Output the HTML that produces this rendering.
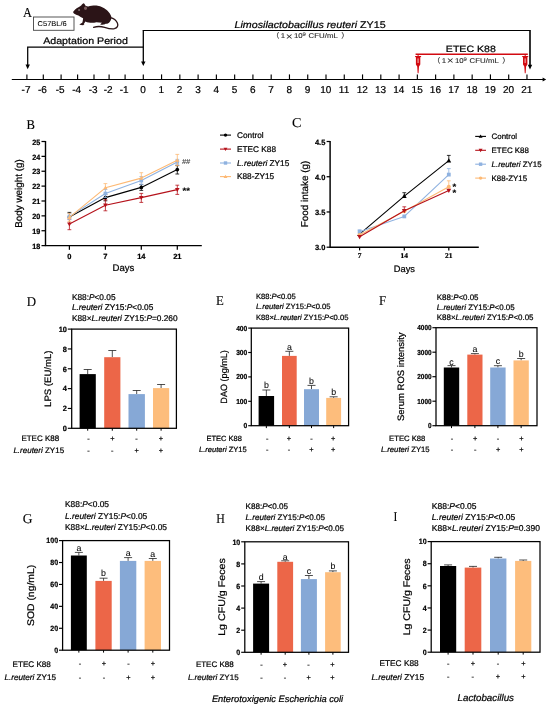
<!DOCTYPE html>
<html lang="en">
<head>
<meta charset="utf-8">
<title>Figure</title>
<style>
html,body{margin:0;padding:0;background:#fff;}
body{width:550px;height:707px;overflow:hidden;}
svg{display:block;}
text{fill:#000000;stroke:#000000;stroke-width:0.22px;text-rendering:geometricPrecision;}
.s{font-family:"Liberation Sans", Arial, sans-serif;}
.r{font-family:"Liberation Serif", "Times New Roman", serif;}
.c{font-family:"Liberation Sans", "Noto Sans CJK SC", sans-serif;}
</style>
</head>
<body>
<svg width="550" height="707" viewBox="0 0 550 707">
<rect x="0" y="0" width="550" height="707" fill="#ffffff"/>
<text class="r" transform="translate(23.1 17.1) scale(0.92 1)" font-size="13.5" style="stroke-width:0.1px">A</text>
<rect x="33.5" y="17" width="40.5" height="13.3" fill="#fff" stroke="#444" stroke-width="0.9"/>
<text class="s" transform="translate(52.2 25.8) scale(1.07 1)" font-size="7" text-anchor="middle" style="stroke-width:0.06px">C57BL/6</text>
<g fill="#2b1417" stroke="none"><path d="M73.2 11.8 C74.5 10 76.2 8.6 78 7.6 C79.2 6.8 80.4 6 81.4 5.2 C82 4.2 82.9 3.4 83.8 3.2 C84.6 3.6 85 4.6 85.3 5.6 C86.4 6.2 87.2 6.5 88.2 6.6 C91 5.8 94.5 5.3 97.6 5.7 C101 6.2 103.8 7.6 106 9.6 C108.2 11.4 109.8 13.2 110.6 15.1 C111.4 16.6 111.6 17.8 111.2 19 C110.8 20.8 109.6 22.6 107.8 23.6 C106.8 24 105.8 23.6 105 24.2 C103.6 24.8 101.6 24.8 100.2 24.4 C100.6 23.6 101.4 23.2 102 22.8 C100 22.6 98 22.6 96.4 22.3 C93.8 22.9 91.2 23 88.8 22.6 C87.6 22.3 86.4 21.9 85.4 21.4 C84.8 22.6 84.2 23.6 83.6 24.2 C84.2 24.5 84.6 24.8 84.2 25.1 C82.6 25.3 80.6 25.1 79.3 24.5 C80.4 23.8 81.6 23.5 82.4 22.6 C82.8 21.2 82.9 19.6 83.1 18.2 C81.4 17.6 79.8 16.7 78.4 15.6 C76.8 15.2 75.4 14.5 74.3 13.7 C73.5 13.2 73 12.5 73.2 11.8 Z"/></g>
<path d="M110.4 17.6 C113.6 18.4 116.2 20.4 117.4 23 C118.6 25.8 117.2 28 114.4 28.7 C111.4 29.3 108 28.4 104.6 27.3 C101 26.3 97 26.2 93.6 27.3" fill="none" stroke="#2b1417" stroke-width="1.3" stroke-linecap="round"/>
<ellipse cx="85.5" cy="8.3" rx="1.5" ry="1.8" fill="#7a5c5c"/>
<ellipse cx="79.1" cy="9.9" rx="1.1" ry="0.75" fill="#9a8a8a"/>
<text class="s" transform="translate(85.5 44.2) scale(1.11 1)" font-size="9.6" text-anchor="middle" >Adaptation Period</text>
<path d="M27.7 65 V47.2 H143.3" fill="none" stroke="#000" stroke-width="1.25"/>
<path d="M143.3 62 V30.5" fill="none" stroke="#000" stroke-width="1.3"/>
<path d="M142.7 30.5 H530.7" fill="none" stroke="#000" stroke-width="1.1"/>
<path d="M530 30.5 V65" fill="none" stroke="#000" stroke-width="1.6"/>
<path d="M25.5 64.6 L29.9 64.6 L27.7 69.2 Z" fill="#000"/>
<path d="M141.1 61.4 L145.5 61.4 L143.3 66 Z" fill="#000"/>
<path d="M527.8 64.8 L532.2 64.8 L530 69.4 Z" fill="#000"/>
<text class="s" transform="translate(234.5 27.7) scale(1.098 1)" font-size="9.75" ><tspan font-style="italic">Limosilactobacillus reuteri</tspan> ZY15</text>
<text class="c" transform="translate(277 38.4) scale(1.13 1)" font-size="6.95" style="fill:#2a2a2a;stroke:#2a2a2a;stroke-width:0.12px"><tspan x="-4.87">（</tspan><tspan x="3.36">1</tspan><tspan x="7.7" dy="1.3" font-size="10.5" style="stroke:none">×</tspan><tspan x="14.96" dy="-1.3">10</tspan><tspan x="22.65" dy="-2.3" font-size="5.2">9</tspan><tspan x="27.96" dy="2.3">CFU/mL</tspan><tspan x="56.91">）</tspan></text>
<text class="s" transform="translate(470.8 52) scale(1.15 1)" font-size="9.2" text-anchor="middle" >ETEC K88</text>
<text class="c" transform="translate(438 63) scale(1.13 1)" font-size="6.95" style="fill:#2a2a2a;stroke:#2a2a2a;stroke-width:0.12px"><tspan x="-4.87">（</tspan><tspan x="3.36">1</tspan><tspan x="7.7" dy="1.3" font-size="10.5" style="stroke:none">×</tspan><tspan x="14.96" dy="-1.3">10</tspan><tspan x="22.65" dy="-2.3" font-size="5.2">9</tspan><tspan x="27.96" dy="2.3">CFU/mL</tspan><tspan x="56.91">）</tspan></text>
<line x1="415.6" y1="54.3" x2="527.8" y2="54.3" stroke="#d20a11" stroke-width="1.4" />
<g fill="#d20a11" stroke="none"><rect x="417.6" y="54.3" width="1" height="2.6"/><rect x="415.1" y="56" width="6" height="1.1"/><path d="M415.9 57 H420.3 V64.6 L419 66.4 L418.55 73.2 H417.65 L417.2 66.4 L415.9 64.6 Z"/></g>
<rect x="417.4" y="58.4" width="1.4" height="4.6" fill="#f6b3b3" opacity="0.75"/>
<g fill="#d20a11" stroke="none"><rect x="524.7" y="54.3" width="1" height="2.6"/><rect x="522.2" y="56" width="6" height="1.1"/><path d="M523 57 H527.4 V64.6 L526.1 66.4 L525.65 73.2 H524.75 L524.3 66.4 L523 64.6 Z"/></g>
<rect x="524.5" y="58.4" width="1.4" height="4.6" fill="#f6b3b3" opacity="0.75"/>
<line x1="11.8" y1="79.5" x2="543.5" y2="79.5" stroke="#000" stroke-width="1" />
<path d="M542.6 77.6 L546.2 79.5 L542.6 81.4 Z" fill="#000"/>
<line x1="26.9" y1="74.4" x2="26.9" y2="79.5" stroke="#000" stroke-width="1.15" />
<text class="s" x="26" y="93.3" font-size="10" text-anchor="middle" >-7</text>
<line x1="43.3" y1="74.4" x2="43.3" y2="79.5" stroke="#000" stroke-width="1.15" />
<text class="s" x="42.4" y="93.3" font-size="10" text-anchor="middle" >-6</text>
<line x1="61.1" y1="74.4" x2="61.1" y2="79.5" stroke="#000" stroke-width="1.15" />
<text class="s" x="60.2" y="93.3" font-size="10" text-anchor="middle" >-5</text>
<line x1="77.6" y1="74.4" x2="77.6" y2="79.5" stroke="#000" stroke-width="1.15" />
<text class="s" x="76.7" y="93.3" font-size="10" text-anchor="middle" >-4</text>
<line x1="94" y1="74.4" x2="94" y2="79.5" stroke="#000" stroke-width="1.15" />
<text class="s" x="93.1" y="93.3" font-size="10" text-anchor="middle" >-3</text>
<line x1="109.1" y1="74.4" x2="109.1" y2="79.5" stroke="#000" stroke-width="1.15" />
<text class="s" x="108.2" y="93.3" font-size="10" text-anchor="middle" >-2</text>
<line x1="125.1" y1="74.4" x2="125.1" y2="79.5" stroke="#000" stroke-width="1.15" />
<text class="s" x="124.2" y="93.3" font-size="10" text-anchor="middle" >-1</text>
<line x1="143.3" y1="74.4" x2="143.3" y2="79.5" stroke="#000" stroke-width="1.15" />
<text class="s" x="143.1" y="93.3" font-size="10" text-anchor="middle" >0</text>
<line x1="161.57" y1="74.4" x2="161.57" y2="79.5" stroke="#000" stroke-width="1.15" />
<text class="s" x="161.37" y="93.3" font-size="10" text-anchor="middle" >1</text>
<line x1="179.84" y1="74.4" x2="179.84" y2="79.5" stroke="#000" stroke-width="1.15" />
<text class="s" x="179.64" y="93.3" font-size="10" text-anchor="middle" >2</text>
<line x1="198.11" y1="74.4" x2="198.11" y2="79.5" stroke="#000" stroke-width="1.15" />
<text class="s" x="197.91" y="93.3" font-size="10" text-anchor="middle" >3</text>
<line x1="216.38" y1="74.4" x2="216.38" y2="79.5" stroke="#000" stroke-width="1.15" />
<text class="s" x="216.18" y="93.3" font-size="10" text-anchor="middle" >4</text>
<line x1="234.65" y1="74.4" x2="234.65" y2="79.5" stroke="#000" stroke-width="1.15" />
<text class="s" x="234.45" y="93.3" font-size="10" text-anchor="middle" >5</text>
<line x1="252.92" y1="74.4" x2="252.92" y2="79.5" stroke="#000" stroke-width="1.15" />
<text class="s" x="252.72" y="93.3" font-size="10" text-anchor="middle" >6</text>
<line x1="271.19" y1="74.4" x2="271.19" y2="79.5" stroke="#000" stroke-width="1.15" />
<text class="s" x="270.99" y="93.3" font-size="10" text-anchor="middle" >7</text>
<line x1="289.46" y1="74.4" x2="289.46" y2="79.5" stroke="#000" stroke-width="1.15" />
<text class="s" x="289.26" y="93.3" font-size="10" text-anchor="middle" >8</text>
<line x1="307.73" y1="74.4" x2="307.73" y2="79.5" stroke="#000" stroke-width="1.15" />
<text class="s" x="307.53" y="93.3" font-size="10" text-anchor="middle" >9</text>
<line x1="326" y1="74.4" x2="326" y2="79.5" stroke="#000" stroke-width="1.15" />
<text class="s" x="325.8" y="93.3" font-size="10" text-anchor="middle" >10</text>
<line x1="344.27" y1="74.4" x2="344.27" y2="79.5" stroke="#000" stroke-width="1.15" />
<text class="s" x="344.07" y="93.3" font-size="10" text-anchor="middle" >11</text>
<line x1="362.54" y1="74.4" x2="362.54" y2="79.5" stroke="#000" stroke-width="1.15" />
<text class="s" x="362.34" y="93.3" font-size="10" text-anchor="middle" >12</text>
<line x1="380.81" y1="74.4" x2="380.81" y2="79.5" stroke="#000" stroke-width="1.15" />
<text class="s" x="380.61" y="93.3" font-size="10" text-anchor="middle" >13</text>
<line x1="399.08" y1="74.4" x2="399.08" y2="79.5" stroke="#000" stroke-width="1.15" />
<text class="s" x="398.88" y="93.3" font-size="10" text-anchor="middle" >14</text>
<line x1="417.35" y1="74.4" x2="417.35" y2="79.5" stroke="#000" stroke-width="1.15" />
<text class="s" x="417.15" y="93.3" font-size="10" text-anchor="middle" >15</text>
<line x1="435.62" y1="74.4" x2="435.62" y2="79.5" stroke="#000" stroke-width="1.15" />
<text class="s" x="435.42" y="93.3" font-size="10" text-anchor="middle" >16</text>
<line x1="453.89" y1="74.4" x2="453.89" y2="79.5" stroke="#000" stroke-width="1.15" />
<text class="s" x="453.69" y="93.3" font-size="10" text-anchor="middle" >17</text>
<line x1="472.16" y1="74.4" x2="472.16" y2="79.5" stroke="#000" stroke-width="1.15" />
<text class="s" x="471.96" y="93.3" font-size="10" text-anchor="middle" >18</text>
<line x1="490.43" y1="74.4" x2="490.43" y2="79.5" stroke="#000" stroke-width="1.15" />
<text class="s" x="490.23" y="93.3" font-size="10" text-anchor="middle" >19</text>
<line x1="508.7" y1="74.4" x2="508.7" y2="79.5" stroke="#000" stroke-width="1.15" />
<text class="s" x="508.5" y="93.3" font-size="10" text-anchor="middle" >20</text>
<line x1="526.97" y1="74.4" x2="526.97" y2="79.5" stroke="#000" stroke-width="1.15" />
<text class="s" x="526.77" y="93.3" font-size="10" text-anchor="middle" >21</text>
<text class="r" transform="translate(26.4 128.8) scale(0.94 1)" font-size="13.5" style="stroke-width:0.1px">B</text>
<path d="M45.5 141 V245.6 H201.8" fill="none" stroke="#000" stroke-width="1.4"/>
<line x1="41.5" y1="141.5" x2="45.5" y2="141.5" stroke="#000" stroke-width="1.25" />
<text class="s" transform="translate(40.2 144.7) scale(0.95 1)" font-size="7.6" text-anchor="end" font-weight="bold">25</text>
<line x1="41.5" y1="156.37" x2="45.5" y2="156.37" stroke="#000" stroke-width="1.25" />
<text class="s" transform="translate(40.2 159.57) scale(0.95 1)" font-size="7.6" text-anchor="end" font-weight="bold">24</text>
<line x1="41.5" y1="171.24" x2="45.5" y2="171.24" stroke="#000" stroke-width="1.25" />
<text class="s" transform="translate(40.2 174.44) scale(0.95 1)" font-size="7.6" text-anchor="end" font-weight="bold">23</text>
<line x1="41.5" y1="186.11" x2="45.5" y2="186.11" stroke="#000" stroke-width="1.25" />
<text class="s" transform="translate(40.2 189.31) scale(0.95 1)" font-size="7.6" text-anchor="end" font-weight="bold">22</text>
<line x1="41.5" y1="200.99" x2="45.5" y2="200.99" stroke="#000" stroke-width="1.25" />
<text class="s" transform="translate(40.2 204.19) scale(0.95 1)" font-size="7.6" text-anchor="end" font-weight="bold">21</text>
<line x1="41.5" y1="215.86" x2="45.5" y2="215.86" stroke="#000" stroke-width="1.25" />
<text class="s" transform="translate(40.2 219.06) scale(0.95 1)" font-size="7.6" text-anchor="end" font-weight="bold">20</text>
<line x1="41.5" y1="230.73" x2="45.5" y2="230.73" stroke="#000" stroke-width="1.25" />
<text class="s" transform="translate(40.2 233.93) scale(0.95 1)" font-size="7.6" text-anchor="end" font-weight="bold">19</text>
<line x1="41.5" y1="245.6" x2="45.5" y2="245.6" stroke="#000" stroke-width="1.25" />
<text class="s" transform="translate(40.2 248.8) scale(0.95 1)" font-size="7.6" text-anchor="end" font-weight="bold">18</text>
<line x1="69.4" y1="245.6" x2="69.4" y2="249.8" stroke="#000" stroke-width="1.25" />
<text class="s" x="69.4" y="259.1" font-size="7.5" text-anchor="middle" font-weight="bold" fill="#000" >0</text>
<line x1="105.4" y1="245.6" x2="105.4" y2="249.8" stroke="#000" stroke-width="1.25" />
<text class="s" x="105.4" y="259.1" font-size="7.5" text-anchor="middle" font-weight="bold" fill="#000" >7</text>
<line x1="141.3" y1="245.6" x2="141.3" y2="249.8" stroke="#000" stroke-width="1.25" />
<text class="s" x="141.3" y="259.1" font-size="7.5" text-anchor="middle" font-weight="bold" fill="#000" >14</text>
<line x1="177.3" y1="245.6" x2="177.3" y2="249.8" stroke="#000" stroke-width="1.25" />
<text class="s" x="177.3" y="259.1" font-size="7.5" text-anchor="middle" font-weight="bold" fill="#000" >21</text>
<text class="s" transform="translate(22.4 193.5) rotate(-90)" font-size="9.9" text-anchor="middle">Body weight (g)</text>
<text class="s" x="123.5" y="271.4" font-size="9.6" text-anchor="middle" >Days</text>
<line x1="69.4" y1="217" x2="69.4" y2="212.4" stroke="#000" stroke-width="0.8" />
<line x1="67.5" y1="212.4" x2="71.3" y2="212.4" stroke="#000" stroke-width="0.8" />
<line x1="105.4" y1="197.6" x2="105.4" y2="194.4" stroke="#000" stroke-width="0.8" />
<line x1="103.5" y1="194.4" x2="107.3" y2="194.4" stroke="#000" stroke-width="0.8" />
<line x1="105.4" y1="197.6" x2="105.4" y2="200.8" stroke="#000" stroke-width="0.8" />
<line x1="103.5" y1="200.8" x2="107.3" y2="200.8" stroke="#000" stroke-width="0.8" />
<line x1="141.3" y1="187.4" x2="141.3" y2="184.4" stroke="#000" stroke-width="0.8" />
<line x1="139.4" y1="184.4" x2="143.2" y2="184.4" stroke="#000" stroke-width="0.8" />
<line x1="141.3" y1="187.4" x2="141.3" y2="190.4" stroke="#000" stroke-width="0.8" />
<line x1="139.4" y1="190.4" x2="143.2" y2="190.4" stroke="#000" stroke-width="0.8" />
<line x1="177.3" y1="169.6" x2="177.3" y2="165.6" stroke="#000" stroke-width="0.8" />
<line x1="175.4" y1="165.6" x2="179.2" y2="165.6" stroke="#000" stroke-width="0.8" />
<line x1="177.3" y1="169.6" x2="177.3" y2="174" stroke="#000" stroke-width="0.8" />
<line x1="175.4" y1="174" x2="179.2" y2="174" stroke="#000" stroke-width="0.8" />
<polyline points="69.4,217 105.4,197.6 141.3,187.4 177.3,169.6" fill="none" stroke="#000" stroke-width="1.1" stroke-linejoin="round"/>
<circle cx="69.4" cy="217" r="1.85" fill="#000"/>
<circle cx="105.4" cy="197.6" r="1.85" fill="#000"/>
<circle cx="141.3" cy="187.4" r="1.85" fill="#000"/>
<circle cx="177.3" cy="169.6" r="1.85" fill="#000"/>
<line x1="69.4" y1="224.1" x2="69.4" y2="219.1" stroke="#b5121b" stroke-width="0.8" />
<line x1="67.5" y1="219.1" x2="71.3" y2="219.1" stroke="#b5121b" stroke-width="0.8" />
<line x1="69.4" y1="224.1" x2="69.4" y2="229.7" stroke="#b5121b" stroke-width="0.8" />
<line x1="67.5" y1="229.7" x2="71.3" y2="229.7" stroke="#b5121b" stroke-width="0.8" />
<line x1="105.4" y1="205.2" x2="105.4" y2="199.8" stroke="#b5121b" stroke-width="0.8" />
<line x1="103.5" y1="199.8" x2="107.3" y2="199.8" stroke="#b5121b" stroke-width="0.8" />
<line x1="105.4" y1="205.2" x2="105.4" y2="210.8" stroke="#b5121b" stroke-width="0.8" />
<line x1="103.5" y1="210.8" x2="107.3" y2="210.8" stroke="#b5121b" stroke-width="0.8" />
<line x1="141.3" y1="197.6" x2="141.3" y2="193.4" stroke="#b5121b" stroke-width="0.8" />
<line x1="139.4" y1="193.4" x2="143.2" y2="193.4" stroke="#b5121b" stroke-width="0.8" />
<line x1="141.3" y1="197.6" x2="141.3" y2="202.4" stroke="#b5121b" stroke-width="0.8" />
<line x1="139.4" y1="202.4" x2="143.2" y2="202.4" stroke="#b5121b" stroke-width="0.8" />
<line x1="177.3" y1="189.6" x2="177.3" y2="185.2" stroke="#b5121b" stroke-width="0.8" />
<line x1="175.4" y1="185.2" x2="179.2" y2="185.2" stroke="#b5121b" stroke-width="0.8" />
<line x1="177.3" y1="189.6" x2="177.3" y2="194.4" stroke="#b5121b" stroke-width="0.8" />
<line x1="175.4" y1="194.4" x2="179.2" y2="194.4" stroke="#b5121b" stroke-width="0.8" />
<polyline points="69.4,224.1 105.4,205.2 141.3,197.6 177.3,189.6" fill="none" stroke="#b5121b" stroke-width="1.1" stroke-linejoin="round"/>
<path d="M67.1 222.4 L71.7 222.4 L69.4 226.4 Z" fill="#b5121b"/>
<path d="M103.1 203.5 L107.7 203.5 L105.4 207.5 Z" fill="#b5121b"/>
<path d="M139 195.9 L143.6 195.9 L141.3 199.9 Z" fill="#b5121b"/>
<path d="M175 187.9 L179.6 187.9 L177.3 191.9 Z" fill="#b5121b"/>
<line x1="69.4" y1="216.6" x2="69.4" y2="213.6" stroke="#8fb2e0" stroke-width="0.8" />
<line x1="67.5" y1="213.6" x2="71.3" y2="213.6" stroke="#8fb2e0" stroke-width="0.8" />
<line x1="69.4" y1="216.6" x2="69.4" y2="219.6" stroke="#8fb2e0" stroke-width="0.8" />
<line x1="67.5" y1="219.6" x2="71.3" y2="219.6" stroke="#8fb2e0" stroke-width="0.8" />
<line x1="105.4" y1="193.5" x2="105.4" y2="189.5" stroke="#8fb2e0" stroke-width="0.8" />
<line x1="103.5" y1="189.5" x2="107.3" y2="189.5" stroke="#8fb2e0" stroke-width="0.8" />
<line x1="105.4" y1="193.5" x2="105.4" y2="197.5" stroke="#8fb2e0" stroke-width="0.8" />
<line x1="103.5" y1="197.5" x2="107.3" y2="197.5" stroke="#8fb2e0" stroke-width="0.8" />
<line x1="141.3" y1="180.6" x2="141.3" y2="176.6" stroke="#8fb2e0" stroke-width="0.8" />
<line x1="139.4" y1="176.6" x2="143.2" y2="176.6" stroke="#8fb2e0" stroke-width="0.8" />
<line x1="141.3" y1="180.6" x2="141.3" y2="184.6" stroke="#8fb2e0" stroke-width="0.8" />
<line x1="139.4" y1="184.6" x2="143.2" y2="184.6" stroke="#8fb2e0" stroke-width="0.8" />
<line x1="177.3" y1="161.9" x2="177.3" y2="159.4" stroke="#8fb2e0" stroke-width="0.8" />
<line x1="175.4" y1="159.4" x2="179.2" y2="159.4" stroke="#8fb2e0" stroke-width="0.8" />
<line x1="177.3" y1="161.9" x2="177.3" y2="164.4" stroke="#8fb2e0" stroke-width="0.8" />
<line x1="175.4" y1="164.4" x2="179.2" y2="164.4" stroke="#8fb2e0" stroke-width="0.8" />
<polyline points="69.4,216.6 105.4,193.5 141.3,180.6 177.3,161.9" fill="none" stroke="#8fb2e0" stroke-width="1.1" stroke-linejoin="round"/>
<rect x="67.6" y="214.8" width="3.6" height="3.6" fill="#8fb2e0"/>
<rect x="103.6" y="191.7" width="3.6" height="3.6" fill="#8fb2e0"/>
<rect x="139.5" y="178.8" width="3.6" height="3.6" fill="#8fb2e0"/>
<rect x="175.5" y="160.1" width="3.6" height="3.6" fill="#8fb2e0"/>
<line x1="69.4" y1="217.4" x2="69.4" y2="213.4" stroke="#fdb974" stroke-width="0.8" />
<line x1="67.5" y1="213.4" x2="71.3" y2="213.4" stroke="#fdb974" stroke-width="0.8" />
<line x1="69.4" y1="217.4" x2="69.4" y2="221.4" stroke="#fdb974" stroke-width="0.8" />
<line x1="67.5" y1="221.4" x2="71.3" y2="221.4" stroke="#fdb974" stroke-width="0.8" />
<line x1="105.4" y1="187.8" x2="105.4" y2="183.6" stroke="#fdb974" stroke-width="0.8" />
<line x1="103.5" y1="183.6" x2="107.3" y2="183.6" stroke="#fdb974" stroke-width="0.8" />
<line x1="141.3" y1="178.1" x2="141.3" y2="172.7" stroke="#fdb974" stroke-width="0.8" />
<line x1="139.4" y1="172.7" x2="143.2" y2="172.7" stroke="#fdb974" stroke-width="0.8" />
<line x1="177.3" y1="160.2" x2="177.3" y2="154.4" stroke="#fdb974" stroke-width="0.8" />
<line x1="175.4" y1="154.4" x2="179.2" y2="154.4" stroke="#fdb974" stroke-width="0.8" />
<line x1="177.3" y1="160.2" x2="177.3" y2="165.6" stroke="#fdb974" stroke-width="0.8" />
<line x1="175.4" y1="165.6" x2="179.2" y2="165.6" stroke="#fdb974" stroke-width="0.8" />
<polyline points="69.4,217.4 105.4,187.8 141.3,178.1 177.3,160.2" fill="none" stroke="#fdb974" stroke-width="1.1" stroke-linejoin="round"/>
<path d="M67.33 218.93 L71.47 218.93 L69.4 215.33 Z" fill="#fdb974"/>
<path d="M103.33 189.33 L107.47 189.33 L105.4 185.73 Z" fill="#fdb974"/>
<path d="M139.23 179.63 L143.37 179.63 L141.3 176.03 Z" fill="#fdb974"/>
<path d="M175.23 161.73 L179.37 161.73 L177.3 158.13 Z" fill="#fdb974"/>
<text class="s" x="182" y="163.7" font-size="7.4" font-style="italic" style="fill:#333;stroke:#333;stroke-width:0.1px">##</text>
<text class="s" x="182.6" y="193.9" font-size="9.6" font-weight="bold" style="stroke-width:0.05px">**</text>
<line x1="220" y1="135.1" x2="231" y2="135.1" stroke="#000" stroke-width="1.1" />
<circle cx="225.5" cy="135.1" r="1.7" fill="#000"/>
<text class="s" x="237" y="137.95" font-size="8.25" >Control</text>
<line x1="220" y1="149.1" x2="231" y2="149.1" stroke="#b5121b" stroke-width="1.1" />
<path d="M223.54 147.66 L227.46 147.66 L225.5 151.06 Z" fill="#b5121b"/>
<text class="s" x="237" y="151.95" font-size="8.25" >ETEC K88</text>
<line x1="220" y1="163" x2="231" y2="163" stroke="#8fb2e0" stroke-width="1.1" />
<rect x="223.8" y="161.3" width="3.4" height="3.4" fill="#8fb2e0"/>
<text class="s" x="237" y="165.85" font-size="8.25" ><tspan font-style="italic">L.reuteri</tspan> ZY15</text>
<line x1="220" y1="176.6" x2="231" y2="176.6" stroke="#fdb974" stroke-width="1.1" />
<path d="M223.54 178.04 L227.46 178.04 L225.5 174.64 Z" fill="#fdb974"/>
<text class="s" x="237" y="179.45" font-size="8.25" >K88-ZY15</text>
<text class="r" transform="translate(291.9 126.6) scale(1.05 1)" font-size="13.5" style="stroke-width:0.1px">C</text>
<path d="M330.1 141 V247.2 H478.8" fill="none" stroke="#000" stroke-width="1.45"/>
<line x1="326.6" y1="141.5" x2="330.1" y2="141.5" stroke="#000" stroke-width="1.25" />
<text class="s" x="325.4" y="144.6" font-size="7.5" text-anchor="end" font-weight="bold" fill="#000" >4.5</text>
<line x1="326.6" y1="176.73" x2="330.1" y2="176.73" stroke="#000" stroke-width="1.25" />
<text class="s" x="325.4" y="179.83" font-size="7.5" text-anchor="end" font-weight="bold" fill="#000" >4.0</text>
<line x1="326.6" y1="211.97" x2="330.1" y2="211.97" stroke="#000" stroke-width="1.25" />
<text class="s" x="325.4" y="215.07" font-size="7.5" text-anchor="end" font-weight="bold" fill="#000" >3.5</text>
<line x1="326.6" y1="247.2" x2="330.1" y2="247.2" stroke="#000" stroke-width="1.25" />
<text class="s" x="325.4" y="250.3" font-size="7.5" text-anchor="end" font-weight="bold" fill="#000" >3.0</text>
<line x1="359.6" y1="247.2" x2="359.6" y2="250.4" stroke="#000" stroke-width="1.25" />
<text class="r" x="359.6" y="258.1" font-size="7.4" text-anchor="middle" font-weight="bold" fill="#000" >7</text>
<line x1="404.3" y1="247.2" x2="404.3" y2="250.4" stroke="#000" stroke-width="1.25" />
<text class="r" x="404.3" y="258.1" font-size="7.4" text-anchor="middle" font-weight="bold" fill="#000" >14</text>
<line x1="448.8" y1="247.2" x2="448.8" y2="250.4" stroke="#000" stroke-width="1.25" />
<text class="r" x="448.8" y="258.1" font-size="7.4" text-anchor="middle" font-weight="bold" fill="#000" >21</text>
<text class="s" transform="translate(307.8 194) rotate(-90)" font-size="9.9" text-anchor="middle">Food intake (g)</text>
<text class="s" x="404.4" y="272" font-size="9.3" text-anchor="middle" >Days</text>
<line x1="404.3" y1="196.1" x2="404.3" y2="192.7" stroke="#000" stroke-width="0.8" />
<line x1="402.4" y1="192.7" x2="406.2" y2="192.7" stroke="#000" stroke-width="0.8" />
<line x1="448.8" y1="160.6" x2="448.8" y2="155.4" stroke="#000" stroke-width="0.8" />
<line x1="446.9" y1="155.4" x2="450.7" y2="155.4" stroke="#000" stroke-width="0.8" />
<polyline points="359.6,234.2 404.3,196.1 448.8,160.6" fill="none" stroke="#000" stroke-width="1.1" stroke-linejoin="round"/>
<path d="M357.19 235.98 L362.02 235.98 L359.6 231.78 Z" fill="#000"/>
<path d="M401.88 197.88 L406.72 197.88 L404.3 193.69 Z" fill="#000"/>
<path d="M446.38 162.38 L451.22 162.38 L448.8 158.19 Z" fill="#000"/>
<line x1="359.6" y1="231.8" x2="359.6" y2="229.8" stroke="#8fb2e0" stroke-width="0.8" />
<line x1="357.7" y1="229.8" x2="361.5" y2="229.8" stroke="#8fb2e0" stroke-width="0.8" />
<line x1="448.8" y1="174.6" x2="448.8" y2="168.6" stroke="#8fb2e0" stroke-width="0.8" />
<line x1="446.9" y1="168.6" x2="450.7" y2="168.6" stroke="#8fb2e0" stroke-width="0.8" />
<polyline points="359.6,231.8 404.3,216.4 448.8,174.6" fill="none" stroke="#8fb2e0" stroke-width="1.1" stroke-linejoin="round"/>
<rect x="357.7" y="229.9" width="3.8" height="3.8" fill="#8fb2e0"/>
<rect x="402.4" y="214.5" width="3.8" height="3.8" fill="#8fb2e0"/>
<rect x="446.9" y="172.7" width="3.8" height="3.8" fill="#8fb2e0"/>
<line x1="448.8" y1="186.8" x2="448.8" y2="180.8" stroke="#fdb974" stroke-width="0.8" />
<line x1="446.9" y1="180.8" x2="450.7" y2="180.8" stroke="#fdb974" stroke-width="0.8" />
<polyline points="359.6,235 404.3,211.2 448.8,186.8" fill="none" stroke="#fdb974" stroke-width="1.1" stroke-linejoin="round"/>
<circle cx="359.6" cy="235" r="2" fill="#fdb974"/>
<circle cx="404.3" cy="211.2" r="2" fill="#fdb974"/>
<circle cx="448.8" cy="186.8" r="2" fill="#fdb974"/>
<line x1="404.3" y1="210.8" x2="404.3" y2="206.8" stroke="#b5121b" stroke-width="0.8" />
<line x1="402.4" y1="206.8" x2="406.2" y2="206.8" stroke="#b5121b" stroke-width="0.8" />
<polyline points="359.6,236.8 404.3,210.8 448.8,190.6" fill="none" stroke="#b5121b" stroke-width="1.1" stroke-linejoin="round"/>
<path d="M357.19 235.02 L362.02 235.02 L359.6 239.22 Z" fill="#b5121b"/>
<path d="M401.88 209.02 L406.72 209.02 L404.3 213.22 Z" fill="#b5121b"/>
<path d="M446.38 188.81 L451.22 188.81 L448.8 193.01 Z" fill="#b5121b"/>
<text class="s" x="452.6" y="190.3" font-size="9.6" font-weight="bold" style="stroke-width:0.05px">*</text>
<text class="s" x="452.6" y="195.9" font-size="9.6" font-weight="bold" style="stroke-width:0.05px">*</text>
<line x1="475.2" y1="136.4" x2="486" y2="136.4" stroke="#000" stroke-width="1.1" />
<path d="M478.65 137.84 L482.56 137.84 L480.6 134.44 Z" fill="#000"/>
<text class="s" x="491.6" y="139.25" font-size="7.9" >Control</text>
<line x1="475.2" y1="150.3" x2="486" y2="150.3" stroke="#b5121b" stroke-width="1.1" />
<path d="M478.65 148.86 L482.56 148.86 L480.6 152.26 Z" fill="#b5121b"/>
<text class="s" x="491.6" y="153.15" font-size="7.9" >ETEC K88</text>
<line x1="475.2" y1="164.2" x2="486" y2="164.2" stroke="#8fb2e0" stroke-width="1.1" />
<rect x="478.9" y="162.5" width="3.4" height="3.4" fill="#8fb2e0"/>
<text class="s" x="491.6" y="167.05" font-size="7.9" ><tspan font-style="italic">L.reuteri</tspan> ZY15</text>
<line x1="475.2" y1="178.1" x2="486" y2="178.1" stroke="#fdb974" stroke-width="1.1" />
<circle cx="480.6" cy="178.1" r="1.7" fill="#fdb974"/>
<text class="s" x="491.6" y="180.95" font-size="7.9" >K88-ZY15</text>
<text class="r" transform="translate(26.7 306) scale(0.96 1)" font-size="13.5" style="stroke-width:0.1px">D</text>
<text class="s" x="71.9" y="299.9" font-size="8.3" >K88:<tspan font-style="italic">P</tspan>&lt;0.05</text>
<text class="s" x="71.9" y="310.4" font-size="8.3" ><tspan font-style="italic">L.reuteri</tspan> ZY15:<tspan font-style="italic">P</tspan>&lt;0.05</text>
<text class="s" x="71.9" y="321.1" font-size="8.3" >K88×<tspan font-style="italic">L.reuteri</tspan> ZY15:<tspan font-style="italic">P</tspan>=0.260</text>
<line x1="87.7" y1="374.1" x2="87.7" y2="369.5" stroke="#222" stroke-width="0.8" />
<line x1="83.7" y1="369.5" x2="91.7" y2="369.5" stroke="#222" stroke-width="0.8" />
<rect x="79.6" y="374.1" width="16.2" height="54.2" fill="#000000"/>
<line x1="87.7" y1="428.3" x2="87.7" y2="430.7" stroke="#000" stroke-width="1" />
<line x1="112.3" y1="357.2" x2="112.3" y2="350.5" stroke="#222" stroke-width="0.8" />
<line x1="108.3" y1="350.5" x2="116.3" y2="350.5" stroke="#222" stroke-width="0.8" />
<rect x="104.2" y="357.2" width="16.2" height="71.1" fill="#ec6648"/>
<line x1="112.3" y1="428.3" x2="112.3" y2="430.7" stroke="#000" stroke-width="1" />
<line x1="136.7" y1="394.1" x2="136.7" y2="390.5" stroke="#222" stroke-width="0.8" />
<line x1="132.7" y1="390.5" x2="140.7" y2="390.5" stroke="#222" stroke-width="0.8" />
<rect x="128.5" y="394.1" width="16.4" height="34.2" fill="#86a8d6"/>
<line x1="136.7" y1="428.3" x2="136.7" y2="430.7" stroke="#000" stroke-width="1" />
<line x1="161.1" y1="388.1" x2="161.1" y2="384.5" stroke="#222" stroke-width="0.8" />
<line x1="157.1" y1="384.5" x2="165.1" y2="384.5" stroke="#222" stroke-width="0.8" />
<rect x="153" y="388.1" width="16.2" height="40.2" fill="#fdbd7c"/>
<line x1="161.1" y1="428.3" x2="161.1" y2="430.7" stroke="#000" stroke-width="1" />
<rect x="71.7" y="329.1" width="104.7" height="99.2" fill="none" stroke="#000" stroke-width="1.25"/>
<line x1="67.8" y1="329.1" x2="71.7" y2="329.1" stroke="#000" stroke-width="1.15" />
<text class="s" transform="translate(66.9 331.84) scale(0.97 1)" font-size="7.6" text-anchor="end" font-weight="bold">10</text>
<line x1="67.8" y1="348.94" x2="71.7" y2="348.94" stroke="#000" stroke-width="1.15" />
<text class="s" transform="translate(66.9 351.68) scale(0.97 1)" font-size="7.6" text-anchor="end" font-weight="bold">8</text>
<line x1="67.8" y1="368.78" x2="71.7" y2="368.78" stroke="#000" stroke-width="1.15" />
<text class="s" transform="translate(66.9 371.52) scale(0.97 1)" font-size="7.6" text-anchor="end" font-weight="bold">6</text>
<line x1="67.8" y1="388.62" x2="71.7" y2="388.62" stroke="#000" stroke-width="1.15" />
<text class="s" transform="translate(66.9 391.36) scale(0.97 1)" font-size="7.6" text-anchor="end" font-weight="bold">4</text>
<line x1="67.8" y1="408.46" x2="71.7" y2="408.46" stroke="#000" stroke-width="1.15" />
<text class="s" transform="translate(66.9 411.2) scale(0.97 1)" font-size="7.6" text-anchor="end" font-weight="bold">2</text>
<line x1="67.8" y1="428.3" x2="71.7" y2="428.3" stroke="#000" stroke-width="1.15" />
<text class="s" transform="translate(66.9 431.04) scale(0.97 1)" font-size="7.6" text-anchor="end" font-weight="bold">0</text>
<text class="s" transform="translate(51.4 378.7) rotate(-90) scale(1.03 1)" font-size="9.3" text-anchor="middle">LPS (EU/mL)</text>
<text class="s" x="59.2" y="441.4" font-size="8" text-anchor="end" >ETEC K88</text>
<text class="s" x="64.1" y="453.2" font-size="8" text-anchor="end" ><tspan font-style="italic">L.reuteri</tspan> ZY15</text>
<text class="s" x="88.6" y="441.4" font-size="7.4" text-anchor="middle" >-</text>
<text class="s" x="88.6" y="452.8" font-size="7.4" text-anchor="middle" >-</text>
<text class="s" x="112.3" y="441.4" font-size="7.4" text-anchor="middle" >+</text>
<text class="s" x="112.3" y="452.8" font-size="7.4" text-anchor="middle" >-</text>
<text class="s" x="136.6" y="441.4" font-size="7.4" text-anchor="middle" >-</text>
<text class="s" x="136.6" y="452.8" font-size="7.4" text-anchor="middle" >+</text>
<text class="s" x="160.9" y="441.4" font-size="7.4" text-anchor="middle" >+</text>
<text class="s" x="160.9" y="452.8" font-size="7.4" text-anchor="middle" >+</text>
<text class="r" transform="translate(215.9 304.7) scale(0.95 1)" font-size="13.5" style="stroke-width:0.1px">E</text>
<text class="s" x="255.9" y="299.1" font-size="7.6" >K88:<tspan font-style="italic">P</tspan>&lt;0.05</text>
<text class="s" x="255.9" y="309.3" font-size="7.6" ><tspan font-style="italic">L.reuteri</tspan> ZY15:<tspan font-style="italic">P</tspan>&lt;0.05</text>
<text class="s" x="255.9" y="319.6" font-size="7.6" >K88×<tspan font-style="italic">L.reuteri</tspan> ZY15:<tspan font-style="italic">P</tspan>&lt;0.05</text>
<line x1="266.35" y1="396" x2="266.35" y2="390" stroke="#222" stroke-width="0.8" />
<line x1="262.35" y1="390" x2="270.35" y2="390" stroke="#222" stroke-width="0.8" />
<rect x="258.6" y="396" width="15.5" height="29.7" fill="#000000"/>
<text class="s" x="266.35" y="388.2" font-size="8.8" text-anchor="middle" style="stroke-width:0.06px">b</text>
<line x1="266.35" y1="425.7" x2="266.35" y2="428.1" stroke="#000" stroke-width="1" />
<line x1="289.35" y1="355.9" x2="289.35" y2="351.3" stroke="#222" stroke-width="0.8" />
<line x1="285.35" y1="351.3" x2="293.35" y2="351.3" stroke="#222" stroke-width="0.8" />
<rect x="282" y="355.9" width="14.7" height="69.8" fill="#ec6648"/>
<text class="s" x="289.35" y="349.8" font-size="8.8" text-anchor="middle" style="stroke-width:0.06px">a</text>
<line x1="289.35" y1="425.7" x2="289.35" y2="428.1" stroke="#000" stroke-width="1" />
<line x1="311.5" y1="389.2" x2="311.5" y2="385.4" stroke="#222" stroke-width="0.8" />
<line x1="307.5" y1="385.4" x2="315.5" y2="385.4" stroke="#222" stroke-width="0.8" />
<rect x="304" y="389.2" width="15" height="36.5" fill="#86a8d6"/>
<text class="s" x="311.5" y="383.9" font-size="8.8" text-anchor="middle" style="stroke-width:0.06px">b</text>
<line x1="311.5" y1="425.7" x2="311.5" y2="428.1" stroke="#000" stroke-width="1" />
<line x1="333.65" y1="397.9" x2="333.65" y2="396.8" stroke="#222" stroke-width="0.8" />
<line x1="329.65" y1="396.8" x2="337.65" y2="396.8" stroke="#222" stroke-width="0.8" />
<rect x="326.2" y="397.9" width="14.9" height="27.8" fill="#fdbd7c"/>
<text class="s" x="333.65" y="395.4" font-size="8.8" text-anchor="middle" style="stroke-width:0.06px">b</text>
<line x1="333.65" y1="425.7" x2="333.65" y2="428.1" stroke="#000" stroke-width="1" />
<rect x="251.3" y="328.1" width="97.3" height="97.6" fill="none" stroke="#000" stroke-width="1.25"/>
<line x1="248.2" y1="328.1" x2="251.3" y2="328.1" stroke="#000" stroke-width="1.15" />
<text class="s" transform="translate(247.3 330.69) scale(0.93 1)" font-size="7.2" text-anchor="end" font-weight="bold">400</text>
<line x1="248.2" y1="352.5" x2="251.3" y2="352.5" stroke="#000" stroke-width="1.15" />
<text class="s" transform="translate(247.3 355.09) scale(0.93 1)" font-size="7.2" text-anchor="end" font-weight="bold">300</text>
<line x1="248.2" y1="376.9" x2="251.3" y2="376.9" stroke="#000" stroke-width="1.15" />
<text class="s" transform="translate(247.3 379.49) scale(0.93 1)" font-size="7.2" text-anchor="end" font-weight="bold">200</text>
<line x1="248.2" y1="401.3" x2="251.3" y2="401.3" stroke="#000" stroke-width="1.15" />
<text class="s" transform="translate(247.3 403.89) scale(0.93 1)" font-size="7.2" text-anchor="end" font-weight="bold">100</text>
<line x1="248.2" y1="425.7" x2="251.3" y2="425.7" stroke="#000" stroke-width="1.15" />
<text class="s" transform="translate(247.3 428.29) scale(0.93 1)" font-size="7.2" text-anchor="end" font-weight="bold">0</text>
<text class="s" transform="translate(227 376.9) rotate(-90)" font-size="9.1" text-anchor="middle">DAO (pg/mL)</text>
<text class="s" x="241.9" y="440.6" font-size="7.5" text-anchor="end" >ETEC K88</text>
<text class="s" x="246.6" y="452.4" font-size="7.5" text-anchor="end" ><tspan font-style="italic">L.reuteri</tspan> ZY15</text>
<text class="s" x="267.3" y="440.6" font-size="7.4" text-anchor="middle" >-</text>
<text class="s" x="267.3" y="452" font-size="7.4" text-anchor="middle" >-</text>
<text class="s" x="288.9" y="440.6" font-size="7.4" text-anchor="middle" >+</text>
<text class="s" x="288.9" y="452" font-size="7.4" text-anchor="middle" >-</text>
<text class="s" x="311.5" y="440.6" font-size="7.4" text-anchor="middle" >-</text>
<text class="s" x="311.5" y="452" font-size="7.4" text-anchor="middle" >+</text>
<text class="s" x="333.1" y="440.6" font-size="7.4" text-anchor="middle" >+</text>
<text class="s" x="333.1" y="452" font-size="7.4" text-anchor="middle" >+</text>
<text class="r" transform="translate(379 304.9) scale(0.95 1)" font-size="13.5" style="stroke-width:0.1px">F</text>
<text class="s" x="436.8" y="299.8" font-size="7.95" >K88:<tspan font-style="italic">P</tspan>&lt;0.05</text>
<text class="s" x="436.8" y="309.7" font-size="7.95" ><tspan font-style="italic">L.reuteri</tspan> ZY15:<tspan font-style="italic">P</tspan>&lt;0.05</text>
<text class="s" x="436.8" y="319.6" font-size="7.95" >K88×<tspan font-style="italic">L.reuteri</tspan> ZY15:<tspan font-style="italic">P</tspan>&lt;0.05</text>
<line x1="451.5" y1="367.5" x2="451.5" y2="365.6" stroke="#222" stroke-width="0.8" />
<line x1="447.5" y1="365.6" x2="455.5" y2="365.6" stroke="#222" stroke-width="0.8" />
<rect x="443.8" y="367.5" width="15.4" height="58.2" fill="#000000"/>
<text class="s" x="451.5" y="364.7" font-size="8.8" text-anchor="middle" style="stroke-width:0.06px">c</text>
<line x1="451.5" y1="425.7" x2="451.5" y2="428.1" stroke="#000" stroke-width="1" />
<line x1="474.9" y1="354.6" x2="474.9" y2="353.6" stroke="#222" stroke-width="0.8" />
<line x1="470.9" y1="353.6" x2="478.9" y2="353.6" stroke="#222" stroke-width="0.8" />
<rect x="467.3" y="354.6" width="15.2" height="71.1" fill="#ec6648"/>
<text class="s" x="474.9" y="351.7" font-size="8.8" text-anchor="middle" style="stroke-width:0.06px">a</text>
<line x1="474.9" y1="425.7" x2="474.9" y2="428.1" stroke="#000" stroke-width="1" />
<line x1="497.9" y1="367.5" x2="497.9" y2="365.7" stroke="#222" stroke-width="0.8" />
<line x1="493.9" y1="365.7" x2="501.9" y2="365.7" stroke="#222" stroke-width="0.8" />
<rect x="490.2" y="367.5" width="15.4" height="58.2" fill="#86a8d6"/>
<text class="s" x="497.9" y="364.4" font-size="8.8" text-anchor="middle" style="stroke-width:0.06px">c</text>
<line x1="497.9" y1="425.7" x2="497.9" y2="428.1" stroke="#000" stroke-width="1" />
<line x1="521.15" y1="360.4" x2="521.15" y2="358.5" stroke="#222" stroke-width="0.8" />
<line x1="517.15" y1="358.5" x2="525.15" y2="358.5" stroke="#222" stroke-width="0.8" />
<rect x="513.5" y="360.4" width="15.3" height="65.3" fill="#fdbd7c"/>
<text class="s" x="521.15" y="357.1" font-size="8.8" text-anchor="middle" style="stroke-width:0.06px">b</text>
<line x1="521.15" y1="425.7" x2="521.15" y2="428.1" stroke="#000" stroke-width="1" />
<rect x="436" y="327.7" width="101" height="98" fill="none" stroke="#000" stroke-width="1.25"/>
<line x1="432.4" y1="327.7" x2="436" y2="327.7" stroke="#000" stroke-width="1.15" />
<text class="s" transform="translate(431.5 330.29) scale(0.89 1)" font-size="7.2" text-anchor="end" font-weight="bold">4000</text>
<line x1="432.4" y1="352.2" x2="436" y2="352.2" stroke="#000" stroke-width="1.15" />
<text class="s" transform="translate(431.5 354.79) scale(0.89 1)" font-size="7.2" text-anchor="end" font-weight="bold">3000</text>
<line x1="432.4" y1="376.7" x2="436" y2="376.7" stroke="#000" stroke-width="1.15" />
<text class="s" transform="translate(431.5 379.29) scale(0.89 1)" font-size="7.2" text-anchor="end" font-weight="bold">2000</text>
<line x1="432.4" y1="401.2" x2="436" y2="401.2" stroke="#000" stroke-width="1.15" />
<text class="s" transform="translate(431.5 403.79) scale(0.89 1)" font-size="7.2" text-anchor="end" font-weight="bold">1000</text>
<line x1="432.4" y1="425.7" x2="436" y2="425.7" stroke="#000" stroke-width="1.15" />
<text class="s" transform="translate(431.5 428.29) scale(0.89 1)" font-size="7.2" text-anchor="end" font-weight="bold">0</text>
<text class="s" transform="translate(404 376.7) rotate(-90) scale(1.02 1)" font-size="9.3" text-anchor="middle">Serum ROS intensity</text>
<text class="s" x="425.4" y="440.6" font-size="7.7" text-anchor="end" >ETEC K88</text>
<text class="s" x="429.6" y="452.4" font-size="7.7" text-anchor="end" ><tspan font-style="italic">L.reuteri</tspan> ZY15</text>
<text class="s" x="452" y="440.6" font-size="7.4" text-anchor="middle" >-</text>
<text class="s" x="452" y="452" font-size="7.4" text-anchor="middle" >-</text>
<text class="s" x="475.2" y="440.6" font-size="7.4" text-anchor="middle" >+</text>
<text class="s" x="475.2" y="452" font-size="7.4" text-anchor="middle" >-</text>
<text class="s" x="498.1" y="440.6" font-size="7.4" text-anchor="middle" >-</text>
<text class="s" x="498.1" y="452" font-size="7.4" text-anchor="middle" >+</text>
<text class="s" x="521.3" y="440.6" font-size="7.4" text-anchor="middle" >+</text>
<text class="s" x="521.3" y="452" font-size="7.4" text-anchor="middle" >+</text>
<text class="r" transform="translate(22.7 523.1) scale(1.0 1)" font-size="13.5" style="stroke-width:0.1px">G</text>
<text class="s" x="65" y="507" font-size="8.4" >K88:<tspan font-style="italic">P</tspan>&lt;0.05</text>
<text class="s" x="65" y="518.6" font-size="8.4" ><tspan font-style="italic">L.reuteri</tspan> ZY15:<tspan font-style="italic">P</tspan>&lt;0.05</text>
<text class="s" x="65" y="530.2" font-size="8.4" >K88×<tspan font-style="italic">L.reuteri</tspan> ZY15:<tspan font-style="italic">P</tspan>&lt;0.05</text>
<line x1="78.85" y1="555.5" x2="78.85" y2="552.4" stroke="#222" stroke-width="0.8" />
<line x1="74.85" y1="552.4" x2="82.85" y2="552.4" stroke="#222" stroke-width="0.8" />
<rect x="70.9" y="555.5" width="15.9" height="94.7" fill="#000000"/>
<text class="s" x="78.85" y="551.2" font-size="8.8" text-anchor="middle" style="stroke-width:0.06px">a</text>
<line x1="78.85" y1="650.2" x2="78.85" y2="652.6" stroke="#000" stroke-width="1" />
<line x1="103.55" y1="580.9" x2="103.55" y2="578.2" stroke="#222" stroke-width="0.8" />
<line x1="99.55" y1="578.2" x2="107.55" y2="578.2" stroke="#222" stroke-width="0.8" />
<rect x="95.4" y="580.9" width="16.3" height="69.3" fill="#ec6648"/>
<text class="s" x="103.55" y="576.2" font-size="8.8" text-anchor="middle" style="stroke-width:0.06px">b</text>
<line x1="103.55" y1="650.2" x2="103.55" y2="652.6" stroke="#000" stroke-width="1" />
<line x1="128.1" y1="560.9" x2="128.1" y2="557.6" stroke="#222" stroke-width="0.8" />
<line x1="124.1" y1="557.6" x2="132.1" y2="557.6" stroke="#222" stroke-width="0.8" />
<rect x="119.9" y="560.9" width="16.4" height="89.3" fill="#86a8d6"/>
<text class="s" x="128.1" y="556.2" font-size="8.8" text-anchor="middle" style="stroke-width:0.06px">a</text>
<line x1="128.1" y1="650.2" x2="128.1" y2="652.6" stroke="#000" stroke-width="1" />
<line x1="152.8" y1="560.9" x2="152.8" y2="558.5" stroke="#222" stroke-width="0.8" />
<line x1="148.8" y1="558.5" x2="156.8" y2="558.5" stroke="#222" stroke-width="0.8" />
<rect x="144.6" y="560.9" width="16.4" height="89.3" fill="#fdbd7c"/>
<text class="s" x="152.8" y="556.8" font-size="8.8" text-anchor="middle" style="stroke-width:0.06px">a</text>
<line x1="152.8" y1="650.2" x2="152.8" y2="652.6" stroke="#000" stroke-width="1" />
<rect x="62.6" y="540.6" width="106.9" height="109.6" fill="none" stroke="#000" stroke-width="1.25"/>
<line x1="59" y1="540.6" x2="62.6" y2="540.6" stroke="#000" stroke-width="1.15" />
<text class="s" transform="translate(58.1 543.37) scale(0.92 1)" font-size="7.7" text-anchor="end" font-weight="bold">100</text>
<line x1="59" y1="562.52" x2="62.6" y2="562.52" stroke="#000" stroke-width="1.15" />
<text class="s" transform="translate(58.1 565.29) scale(0.92 1)" font-size="7.7" text-anchor="end" font-weight="bold">80</text>
<line x1="59" y1="584.44" x2="62.6" y2="584.44" stroke="#000" stroke-width="1.15" />
<text class="s" transform="translate(58.1 587.21) scale(0.92 1)" font-size="7.7" text-anchor="end" font-weight="bold">60</text>
<line x1="59" y1="606.36" x2="62.6" y2="606.36" stroke="#000" stroke-width="1.15" />
<text class="s" transform="translate(58.1 609.13) scale(0.92 1)" font-size="7.7" text-anchor="end" font-weight="bold">40</text>
<line x1="59" y1="628.28" x2="62.6" y2="628.28" stroke="#000" stroke-width="1.15" />
<text class="s" transform="translate(58.1 631.05) scale(0.92 1)" font-size="7.7" text-anchor="end" font-weight="bold">20</text>
<line x1="59" y1="650.2" x2="62.6" y2="650.2" stroke="#000" stroke-width="1.15" />
<text class="s" transform="translate(58.1 652.97) scale(0.92 1)" font-size="7.7" text-anchor="end" font-weight="bold">0</text>
<text class="s" transform="translate(34 595.4) rotate(-90) scale(1.08 1)" font-size="9.6" text-anchor="middle">SOD (ng/mL)</text>
<text class="s" x="50.9" y="666.9" font-size="8.15" text-anchor="end" >ETEC K88</text>
<text class="s" x="56" y="680.4" font-size="8.15" text-anchor="end" ><tspan font-style="italic">L.reuteri</tspan> ZY15</text>
<text class="s" x="80" y="666.1" font-size="7.4" text-anchor="middle" >-</text>
<text class="s" x="80" y="680.1" font-size="7.4" text-anchor="middle" >-</text>
<text class="s" x="104" y="666.1" font-size="7.4" text-anchor="middle" >+</text>
<text class="s" x="104" y="680.1" font-size="7.4" text-anchor="middle" >-</text>
<text class="s" x="128.4" y="666.1" font-size="7.4" text-anchor="middle" >-</text>
<text class="s" x="128.4" y="680.1" font-size="7.4" text-anchor="middle" >+</text>
<text class="s" x="152.8" y="666.1" font-size="7.4" text-anchor="middle" >+</text>
<text class="s" x="152.8" y="680.1" font-size="7.4" text-anchor="middle" >+</text>
<text class="r" transform="translate(216.2 523.4) scale(0.88 1)" font-size="13.5" style="stroke-width:0.1px">H</text>
<text class="s" x="245.5" y="508.7" font-size="8.1" >K88:<tspan font-style="italic">P</tspan>&lt;0.05</text>
<text class="s" x="245.5" y="520" font-size="8.1" ><tspan font-style="italic">L.reuteri</tspan> ZY15:<tspan font-style="italic">P</tspan>&lt;0.05</text>
<text class="s" x="245.5" y="530.9" font-size="8.1" >K88×<tspan font-style="italic">L.reuteri</tspan> ZY15:<tspan font-style="italic">P</tspan>&lt;0.05</text>
<line x1="261.1" y1="583.6" x2="261.1" y2="581.6" stroke="#222" stroke-width="0.8" />
<line x1="257.1" y1="581.6" x2="265.1" y2="581.6" stroke="#222" stroke-width="0.8" />
<rect x="253.1" y="583.6" width="16" height="68.7" fill="#000000"/>
<text class="s" x="261.1" y="579.6" font-size="8.8" text-anchor="middle" style="stroke-width:0.06px">d</text>
<line x1="261.1" y1="652.3" x2="261.1" y2="654.7" stroke="#000" stroke-width="1" />
<line x1="285.2" y1="561.8" x2="285.2" y2="560.8" stroke="#222" stroke-width="0.8" />
<line x1="281.2" y1="560.8" x2="289.2" y2="560.8" stroke="#222" stroke-width="0.8" />
<rect x="277.3" y="561.8" width="15.8" height="90.5" fill="#ec6648"/>
<text class="s" x="285.2" y="559.9" font-size="8.8" text-anchor="middle" style="stroke-width:0.06px">a</text>
<line x1="285.2" y1="652.3" x2="285.2" y2="654.7" stroke="#000" stroke-width="1" />
<line x1="308.9" y1="579.1" x2="308.9" y2="575.5" stroke="#222" stroke-width="0.8" />
<line x1="304.9" y1="575.5" x2="312.9" y2="575.5" stroke="#222" stroke-width="0.8" />
<rect x="300.9" y="579.1" width="16" height="73.2" fill="#86a8d6"/>
<text class="s" x="308.9" y="574.4" font-size="8.8" text-anchor="middle" style="stroke-width:0.06px">c</text>
<line x1="308.9" y1="652.3" x2="308.9" y2="654.7" stroke="#000" stroke-width="1" />
<line x1="332.9" y1="572.2" x2="332.9" y2="570.9" stroke="#222" stroke-width="0.8" />
<line x1="328.9" y1="570.9" x2="336.9" y2="570.9" stroke="#222" stroke-width="0.8" />
<rect x="325.1" y="572.2" width="15.6" height="80.1" fill="#fdbd7c"/>
<text class="s" x="332.9" y="569" font-size="8.8" text-anchor="middle" style="stroke-width:0.06px">b</text>
<line x1="332.9" y1="652.3" x2="332.9" y2="654.7" stroke="#000" stroke-width="1" />
<rect x="244.8" y="541.8" width="103.7" height="110.5" fill="none" stroke="#000" stroke-width="1.25"/>
<line x1="241.2" y1="541.8" x2="244.8" y2="541.8" stroke="#000" stroke-width="1.15" />
<text class="s" transform="translate(240.3 544.57) scale(0.92 1)" font-size="7.7" text-anchor="end" font-weight="bold">10</text>
<line x1="241.2" y1="563.9" x2="244.8" y2="563.9" stroke="#000" stroke-width="1.15" />
<text class="s" transform="translate(240.3 566.67) scale(0.92 1)" font-size="7.7" text-anchor="end" font-weight="bold">8</text>
<line x1="241.2" y1="586" x2="244.8" y2="586" stroke="#000" stroke-width="1.15" />
<text class="s" transform="translate(240.3 588.77) scale(0.92 1)" font-size="7.7" text-anchor="end" font-weight="bold">6</text>
<line x1="241.2" y1="608.1" x2="244.8" y2="608.1" stroke="#000" stroke-width="1.15" />
<text class="s" transform="translate(240.3 610.87) scale(0.92 1)" font-size="7.7" text-anchor="end" font-weight="bold">4</text>
<line x1="241.2" y1="630.2" x2="244.8" y2="630.2" stroke="#000" stroke-width="1.15" />
<text class="s" transform="translate(240.3 632.97) scale(0.92 1)" font-size="7.7" text-anchor="end" font-weight="bold">2</text>
<line x1="241.2" y1="652.3" x2="244.8" y2="652.3" stroke="#000" stroke-width="1.15" />
<text class="s" transform="translate(240.3 655.07) scale(0.92 1)" font-size="7.7" text-anchor="end" font-weight="bold">0</text>
<text class="s" transform="translate(224.5 597.05) rotate(-90) scale(1.11 1)" font-size="9.6" text-anchor="middle">Lg CFU/g Feces</text>
<text class="s" x="233.7" y="666.7" font-size="8" text-anchor="end" >ETEC K88</text>
<text class="s" x="238.6" y="680" font-size="8" text-anchor="end" ><tspan font-style="italic">L.reuteri</tspan> ZY15</text>
<text class="s" x="261.5" y="666.5" font-size="7.4" text-anchor="middle" >-</text>
<text class="s" x="261.5" y="679.6" font-size="7.4" text-anchor="middle" >-</text>
<text class="s" x="285" y="666.5" font-size="7.4" text-anchor="middle" >+</text>
<text class="s" x="285" y="679.6" font-size="7.4" text-anchor="middle" >-</text>
<text class="s" x="308.6" y="666.5" font-size="7.4" text-anchor="middle" >-</text>
<text class="s" x="308.6" y="679.6" font-size="7.4" text-anchor="middle" >+</text>
<text class="s" x="332.3" y="666.5" font-size="7.4" text-anchor="middle" >+</text>
<text class="s" x="332.3" y="679.6" font-size="7.4" text-anchor="middle" >+</text>
<text class="r" transform="translate(393.4 521) scale(0.85 1)" font-size="13.5" style="stroke-width:0.1px">I</text>
<text class="s" x="431.8" y="508.7" font-size="8.5" >K88:<tspan font-style="italic">P</tspan>&lt;0.05</text>
<text class="s" x="431.8" y="520" font-size="8.5" ><tspan font-style="italic">L.reuteri</tspan> ZY15:<tspan font-style="italic">P</tspan>&lt;0.05</text>
<text class="s" x="431.8" y="530.9" font-size="8.5" >K88×<tspan font-style="italic">L.reuteri</tspan> ZY15:<tspan font-style="italic">P</tspan>=0.390</text>
<line x1="448.1" y1="566" x2="448.1" y2="564.9" stroke="#222" stroke-width="0.8" />
<line x1="444.1" y1="564.9" x2="452.1" y2="564.9" stroke="#222" stroke-width="0.8" />
<rect x="440" y="566" width="16.2" height="86.2" fill="#000000"/>
<line x1="448.1" y1="652.2" x2="448.1" y2="654.6" stroke="#000" stroke-width="1" />
<line x1="473" y1="567.6" x2="473" y2="566.4" stroke="#222" stroke-width="0.8" />
<line x1="469" y1="566.4" x2="477" y2="566.4" stroke="#222" stroke-width="0.8" />
<rect x="464.7" y="567.6" width="16.6" height="84.6" fill="#ec6648"/>
<line x1="473" y1="652.2" x2="473" y2="654.6" stroke="#000" stroke-width="1" />
<line x1="498.2" y1="558.5" x2="498.2" y2="557.3" stroke="#222" stroke-width="0.8" />
<line x1="494.2" y1="557.3" x2="502.2" y2="557.3" stroke="#222" stroke-width="0.8" />
<rect x="490" y="558.5" width="16.4" height="93.7" fill="#86a8d6"/>
<line x1="498.2" y1="652.2" x2="498.2" y2="654.6" stroke="#000" stroke-width="1" />
<line x1="523.2" y1="560.9" x2="523.2" y2="560" stroke="#222" stroke-width="0.8" />
<line x1="519.2" y1="560" x2="527.2" y2="560" stroke="#222" stroke-width="0.8" />
<rect x="515.1" y="560.9" width="16.2" height="91.3" fill="#fdbd7c"/>
<line x1="523.2" y1="652.2" x2="523.2" y2="654.6" stroke="#000" stroke-width="1" />
<rect x="431.2" y="541.6" width="108.8" height="110.6" fill="none" stroke="#000" stroke-width="1.25"/>
<line x1="427.6" y1="541.6" x2="431.2" y2="541.6" stroke="#000" stroke-width="1.15" />
<text class="s" transform="translate(426.7 544.37) scale(0.92 1)" font-size="7.7" text-anchor="end" font-weight="bold">10</text>
<line x1="427.6" y1="563.72" x2="431.2" y2="563.72" stroke="#000" stroke-width="1.15" />
<text class="s" transform="translate(426.7 566.49) scale(0.92 1)" font-size="7.7" text-anchor="end" font-weight="bold">8</text>
<line x1="427.6" y1="585.84" x2="431.2" y2="585.84" stroke="#000" stroke-width="1.15" />
<text class="s" transform="translate(426.7 588.61) scale(0.92 1)" font-size="7.7" text-anchor="end" font-weight="bold">6</text>
<line x1="427.6" y1="607.96" x2="431.2" y2="607.96" stroke="#000" stroke-width="1.15" />
<text class="s" transform="translate(426.7 610.73) scale(0.92 1)" font-size="7.7" text-anchor="end" font-weight="bold">4</text>
<line x1="427.6" y1="630.08" x2="431.2" y2="630.08" stroke="#000" stroke-width="1.15" />
<text class="s" transform="translate(426.7 632.85) scale(0.92 1)" font-size="7.7" text-anchor="end" font-weight="bold">2</text>
<line x1="427.6" y1="652.2" x2="431.2" y2="652.2" stroke="#000" stroke-width="1.15" />
<text class="s" transform="translate(426.7 654.97) scale(0.92 1)" font-size="7.7" text-anchor="end" font-weight="bold">0</text>
<text class="s" transform="translate(410 596.9) rotate(-90) scale(1.1 1)" font-size="9.6" text-anchor="middle">Lg CFU/g Feces</text>
<text class="s" x="418.7" y="666.4" font-size="8.3" text-anchor="end" >ETEC K88</text>
<text class="s" x="424" y="679.6" font-size="8.3" text-anchor="end" ><tspan font-style="italic">L.reuteri</tspan> ZY15</text>
<text class="s" x="448.3" y="666.2" font-size="7.4" text-anchor="middle" >-</text>
<text class="s" x="448.3" y="679.2" font-size="7.4" text-anchor="middle" >-</text>
<text class="s" x="472.8" y="666.2" font-size="7.4" text-anchor="middle" >+</text>
<text class="s" x="472.8" y="679.2" font-size="7.4" text-anchor="middle" >-</text>
<text class="s" x="498" y="666.2" font-size="7.4" text-anchor="middle" >-</text>
<text class="s" x="498" y="679.2" font-size="7.4" text-anchor="middle" >+</text>
<text class="s" x="523.3" y="666.2" font-size="7.4" text-anchor="middle" >+</text>
<text class="s" x="523.3" y="679.2" font-size="7.4" text-anchor="middle" >+</text>
<text class="s" x="211.9" y="701.6" font-size="9.3" font-style="italic" >Enterotoxigenic Escherichia coli</text>
<text class="s" x="457.6" y="701.4" font-size="9.75" font-style="italic" >Lactobacillus</text>
</svg>
</body>
</html>
